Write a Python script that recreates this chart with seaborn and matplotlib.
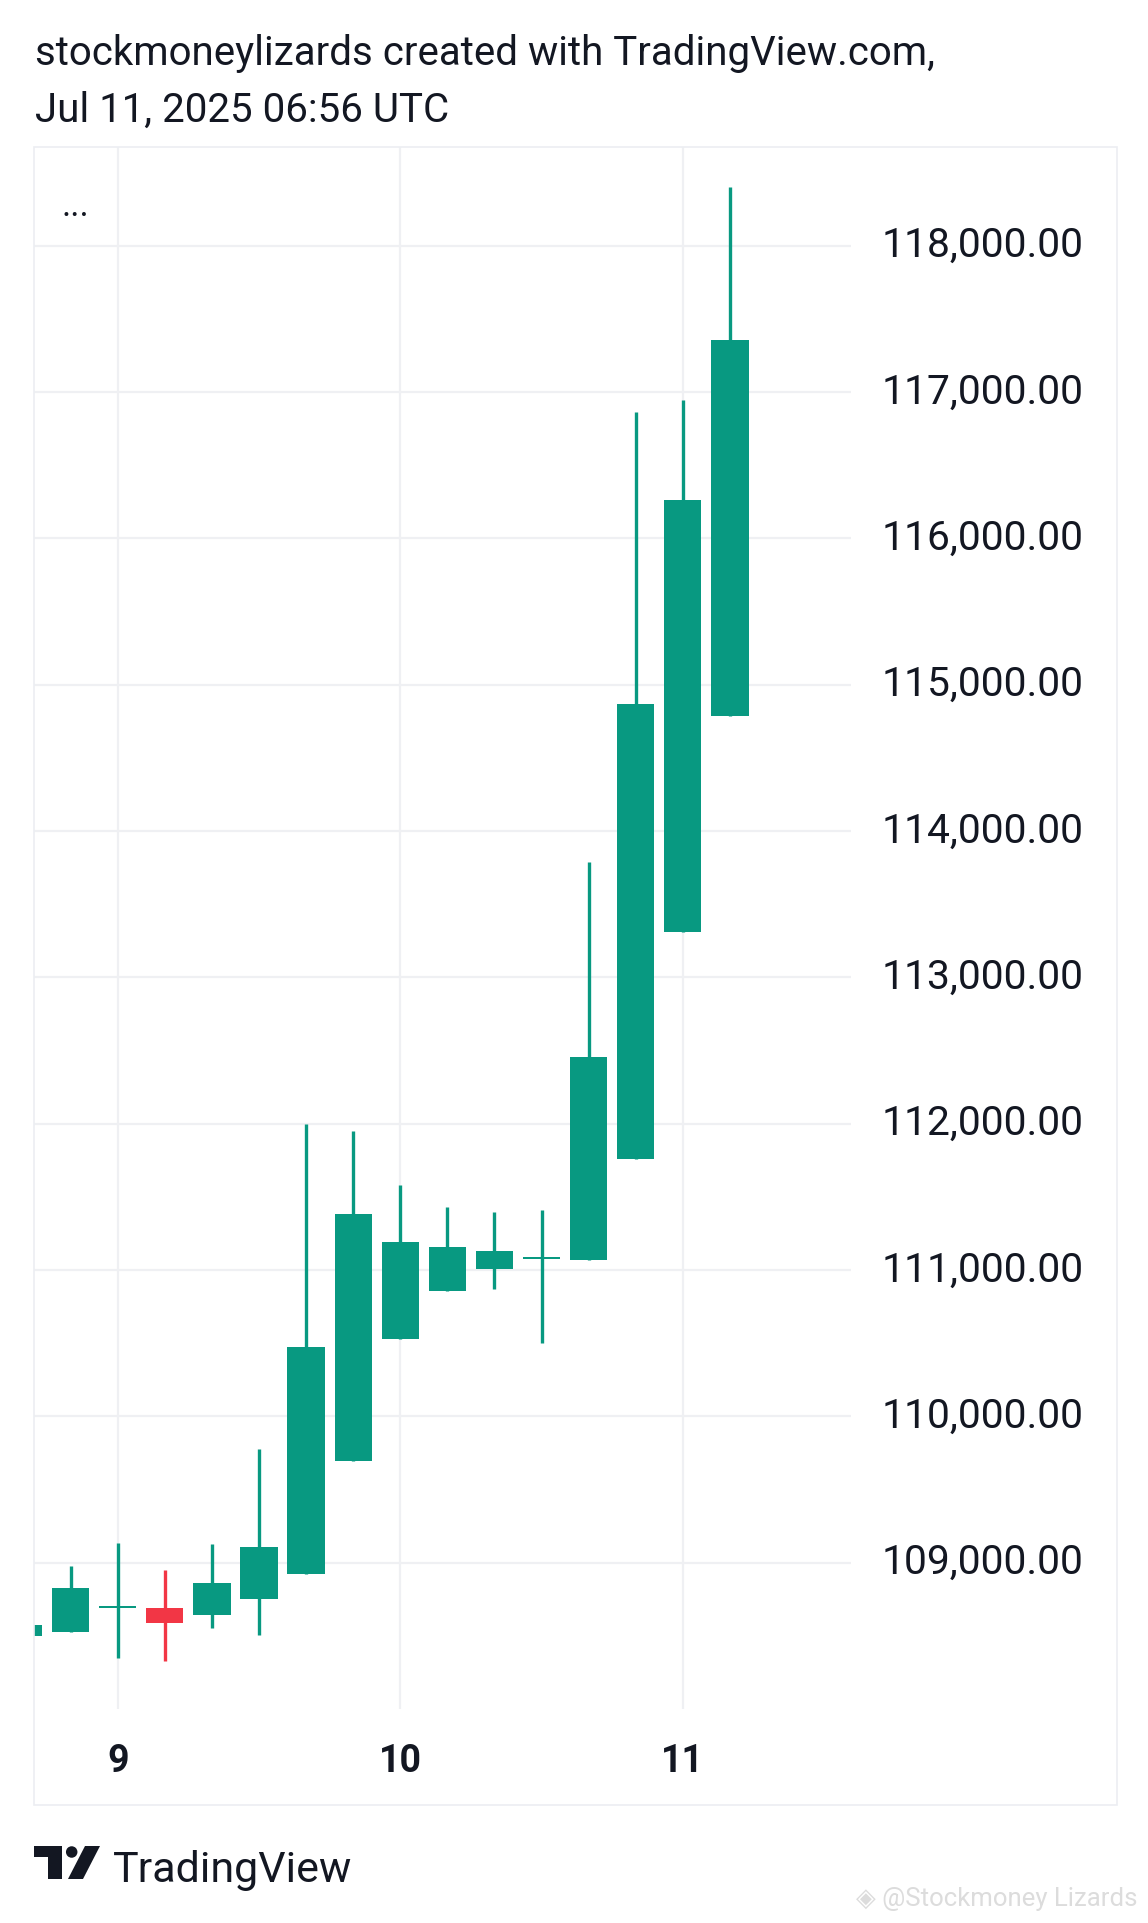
import matplotlib.pyplot as plt
import matplotlib.dates as mdates
import matplotlib.patches as mpatches
import matplotlib.ticker as mticker
import matplotlib.transforms as mtrans
import pandas as pd
import seaborn as sns

# 4h candles, Jul 8 16:00 -> Jul 11 04:00 (UTC)
times = ["2025-07-08 16:00", "2025-07-08 20:00",
         "2025-07-09 00:00", "2025-07-09 04:00", "2025-07-09 08:00",
         "2025-07-09 12:00", "2025-07-09 16:00", "2025-07-09 20:00",
         "2025-07-10 00:00", "2025-07-10 04:00", "2025-07-10 08:00",
         "2025-07-10 12:00", "2025-07-10 16:00", "2025-07-10 20:00",
         "2025-07-11 00:00", "2025-07-11 04:00"]
opens = [108497, 108529, 108690, 108691, 108639, 108749, 108921, 109694,
         110531, 110856, 111008, 111075, 111071, 111762, 113309, 114783]
highs = [108580, 108979, 109136, 108948, 109126, 109775, 112000, 111953,
         111581, 111432, 111398, 111411, 113789, 116865, 116947, 118403]
lows = [108490, 108529, 108351, 108330, 108555, 108508, 108921, 109694,
        110531, 110856, 110869, 110500, 111071, 111762, 113309, 114783]
closes = [108576, 108830, 108705, 108586, 108864, 109105, 110471, 111382,
          111191, 111157, 111131, 111085, 112458, 114865, 116265, 117355]
price_ticks = list(range(109000, 119000, 1000))

UP = "#089981"
DOWN = "#F23645"
TXT = "#131722"
GRID = "#eff0f3"

W, H = 1148, 1924


def fx(px):
    return px / W


def fy(py):
    return 1 - py / H


sns.set_theme(style="white")
plt.rcParams["font.family"] = ["Roboto", "DejaVu Sans"]

df = pd.DataFrame({"time": pd.to_datetime(times), "open": opens, "high": highs,
                   "low": lows, "close": closes})
df["color"] = [UP if c >= o else DOWN for o, c in zip(df["open"], df["close"])]

fig = plt.figure(figsize=(W / 100, H / 100), dpi=100)
fig.patch.set_facecolor("white")

# panel frame
fig.patches.append(mpatches.Rectangle((fx(33.5), fy(1806)), fx(1117) - fx(33.5),
                                      fy(148) - fy(1806), transform=fig.transFigure,
                                      fill=False, edgecolor="#eceef2", linewidth=1.2))

ax = fig.add_axes([fx(33.5), fy(1710), fx(851) - fx(33.5), fy(148) - fy(1710)])
for s in ax.spines.values():
    s.set_visible(False)

candle = pd.Timedelta(hours=4)
body_w = 0.79 * (4 / 24)

ax.vlines(df["time"], df["low"], df["high"], colors=df["color"], linewidth=2.4, zorder=2)
ax.bar(df["time"], (df["close"] - df["open"]).abs().clip(lower=12),
       bottom=df[["open", "close"]].min(axis=1), width=body_w,
       color=df["color"], linewidth=0, zorder=3)

t0 = df["time"].iloc[0]
ax.set_xlim(t0 + 0.212 * candle, t0 + 17.57 * candle)
ax.set_ylim(108000, 118675)

ax.xaxis.set_major_locator(mdates.DayLocator())
ax.xaxis.set_major_formatter(mdates.DateFormatter("%-d"))
ax.set_yticks(price_ticks)
ax.yaxis.set_major_formatter(mticker.StrMethodFormatter("{x:,.2f}"))
ax.yaxis.tick_right()
ax.tick_params(axis="y", length=0, pad=22, labelsize=29.3, labelcolor=TXT)
ax.tick_params(axis="x", length=0, pad=24, labelsize=27, labelcolor=TXT)
for lb in ax.get_xticklabels():
    lb.set_fontweight("bold")
lift = mtrans.ScaledTranslation(0, 0.05, fig.dpi_scale_trans)
for lb in ax.get_yticklabels():
    lb.set_transform(lb.get_transform() + lift)
ax.grid(True, color=GRID, linewidth=1.6, zorder=0)

fig.text(fx(61), fy(206), "...", fontsize=25, color=TXT, va="center")

# header
fig.text(fx(35), fy(65), "stockmoneylizards created with TradingView.com,",
         fontsize=29, color=TXT, va="baseline")
fig.text(fx(35), fy(122), "Jul 11, 2025 06:56 UTC", fontsize=29, color=TXT, va="baseline")

# footer logo
logo = [
    mpatches.Polygon([(fx(34), fy(1847)), (fx(62), fy(1847)), (fx(62), fy(1880)),
                      (fx(48), fy(1880)), (fx(48), fy(1858)), (fx(34), fy(1858))]),
    mpatches.Ellipse((fx(71.7), fy(1853)), 11.5 / W, 11.5 / H),
    mpatches.Polygon([(fx(85), fy(1847)), (fx(100), fy(1847)), (fx(83), fy(1880)),
                      (fx(68), fy(1880))]),
]
for p in logo:
    p.set_transform(fig.transFigure)
    p.set_facecolor(TXT)
    p.set_edgecolor("none")
    fig.patches.append(p)
fig.text(fx(113), fy(1882), "TradingView", fontsize=31, color=TXT, va="baseline")

fig.text(fx(1138), fy(1906), "◈ @Stockmoney Lizards", fontsize=18.5, color="#dcdcdc",
         va="baseline", ha="right", family=["Roboto", "DejaVu Sans"])

fig.savefig("out.png", dpi=100, facecolor="white")
